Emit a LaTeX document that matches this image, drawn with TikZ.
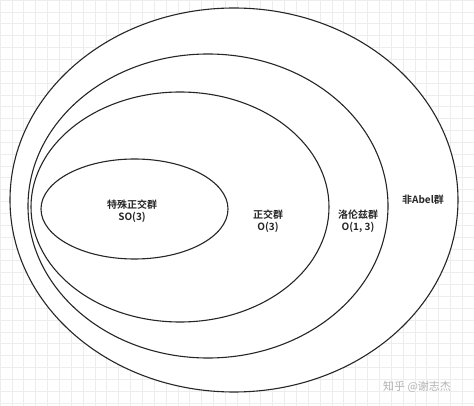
\documentclass[tikz,border=0pt]{standalone}
\usepackage{fontspec}
\setmainfont{Noto Sans CJK SC}[BoldFont={Noto Sans CJK SC Bold}]
\usetikzlibrary{shapes.geometric}

\begin{document}
\begin{tikzpicture}[x=1pt, y=-1pt,
    groupset/.style={draw=black!85, line width=1.1pt, ellipse, inner sep=0pt, fill=white},
    grouplabel/.style={align=center, font=\bfseries\fontsize{10}{12}\selectfont, text=black!85}]
% background grid
\useasboundingbox (0,0) rectangle (474,406);
\fill[white] (0,0) rectangle (474,406);
\draw[black!7, line width=0.5pt, step=11.85pt] (0,0) grid (474,406);
% nested sets
\node[groupset, minimum width=448pt, minimum height=384pt] (nonabel) at (234,200) {};
\node[groupset, minimum width=360pt, minimum height=304pt] (lorentz) at (208,206) {};
\node[groupset, minimum width=298pt, minimum height=230pt] (orth) at (180,207) {};
\node[groupset, minimum width=187pt, minimum height=100pt] (so3) at (134.5,209) {};
% labels
\node[grouplabel] (so3label) at (132,211) {特殊正交群\\SO(3)};
\node[grouplabel] (orthlabel) at (268,221) {正交群\\O(3)};
\node[grouplabel] (lorentzlabel) at (358,221) {洛伦兹群\\O(1, 3)};
\node[grouplabel] (nonabellabel) at (423,200) {非Abel群};
% watermark
\node[text=black!30, font=\fontsize{11}{13}\selectfont] (mark) at (417,387) {知乎 @谢志杰};
\end{tikzpicture}
\end{document}
